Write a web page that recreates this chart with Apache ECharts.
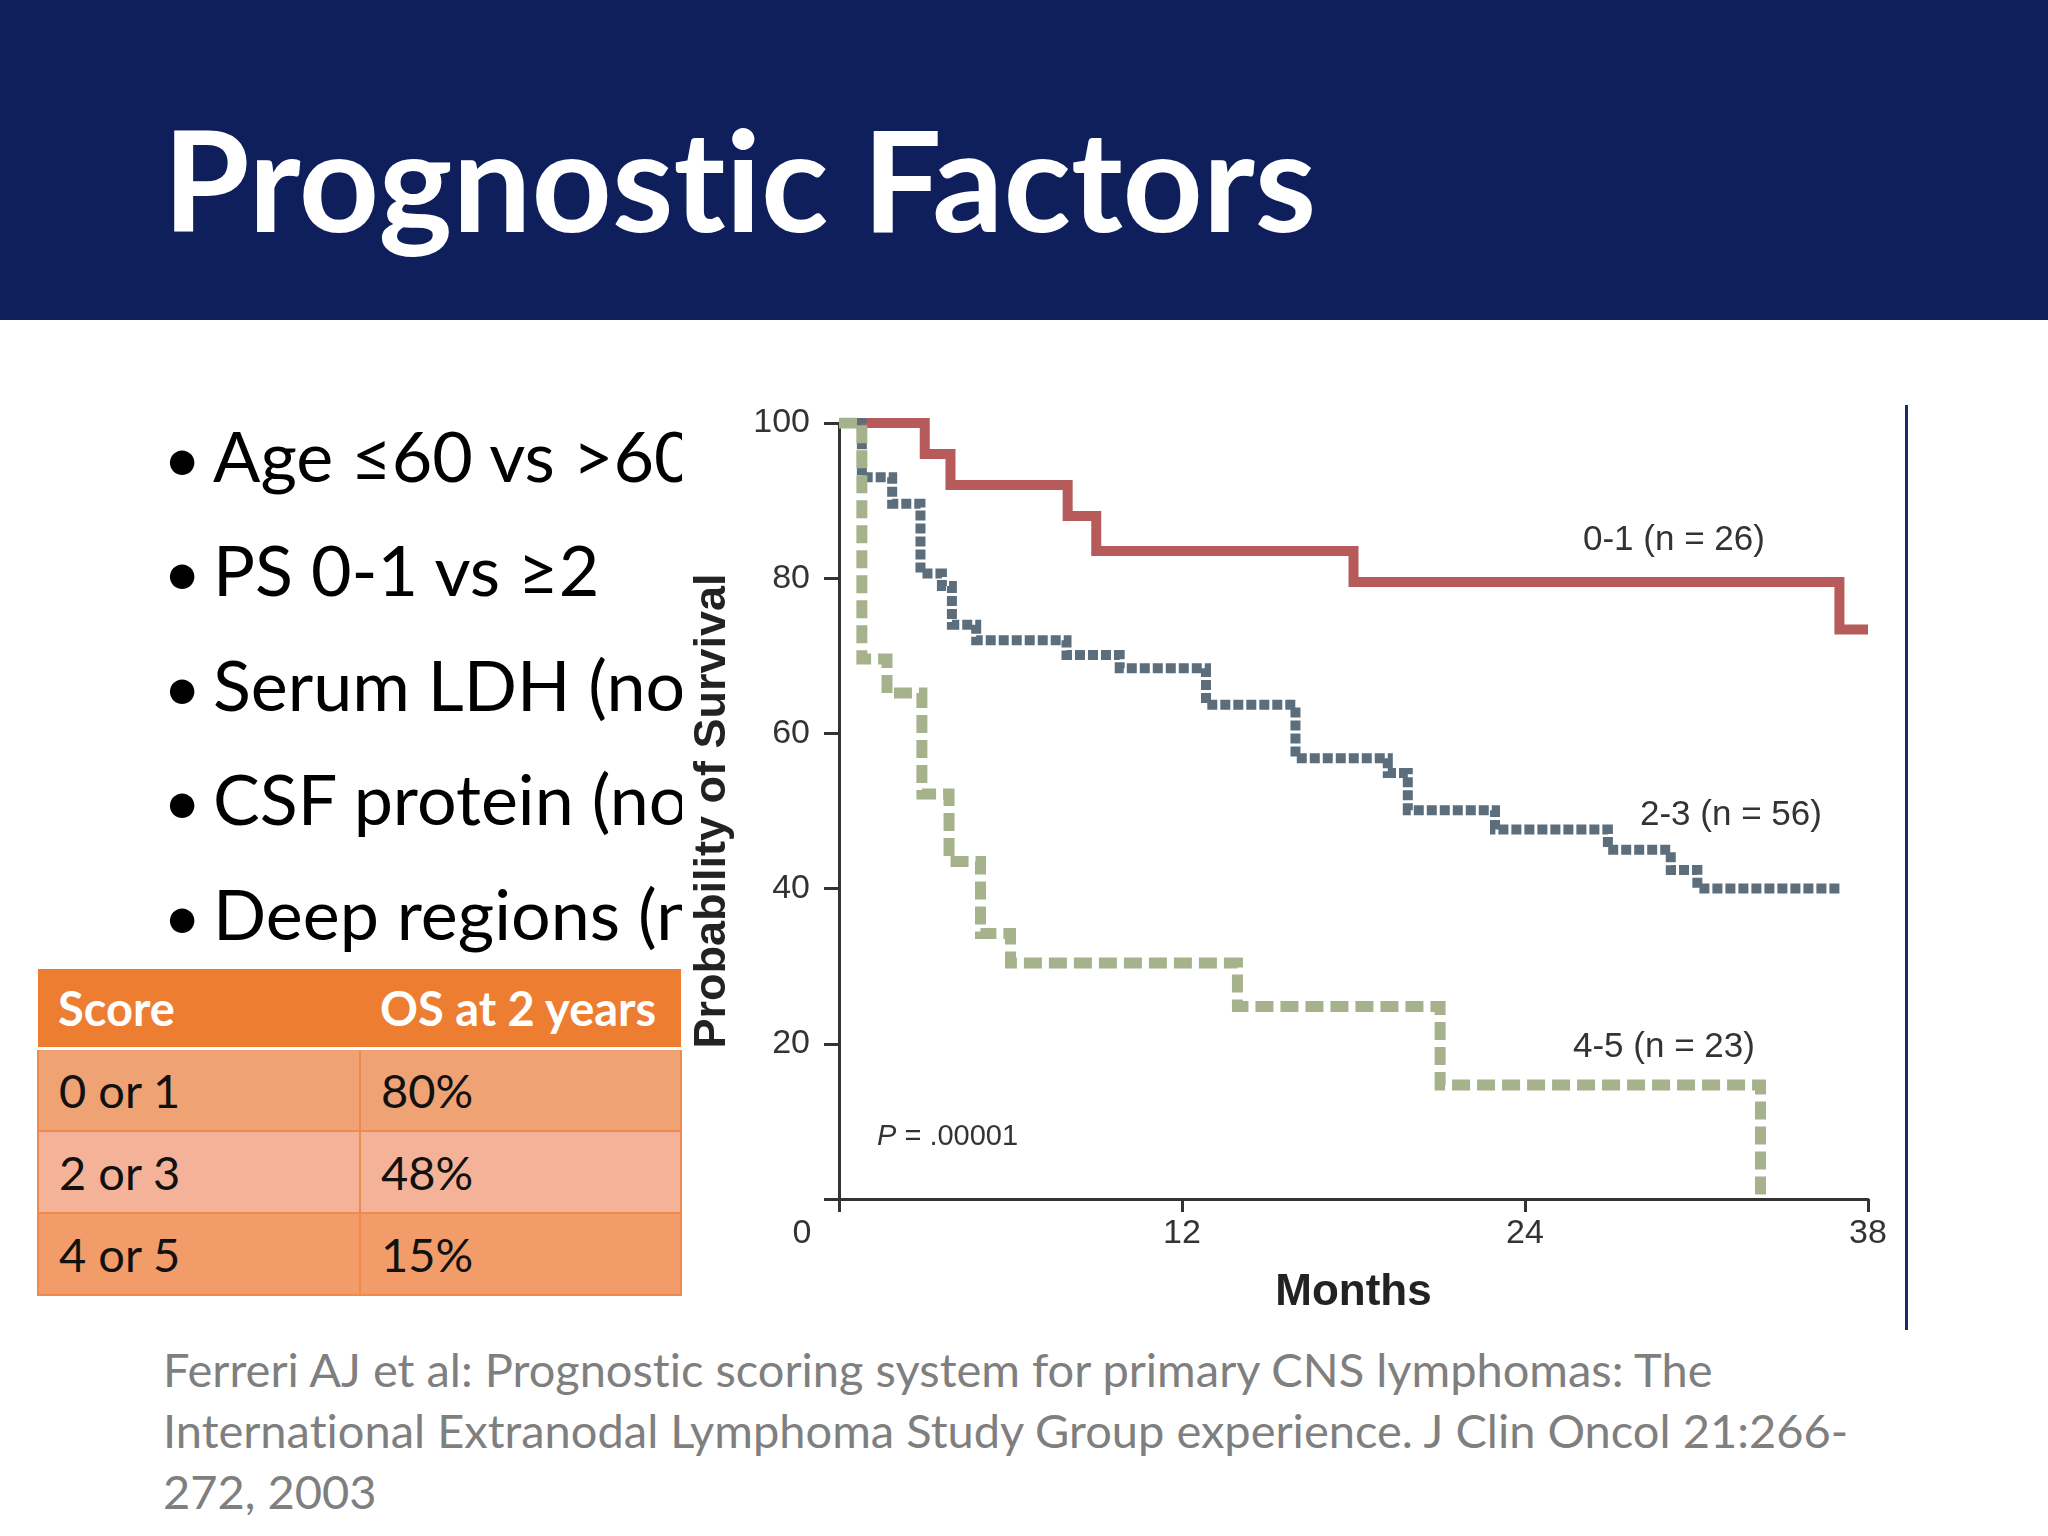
<!DOCTYPE html>
<html>
<head>
<meta charset="utf-8">
<title>Prognostic Factors</title>
<script src="https://cdn.jsdelivr.net/npm/echarts@6/dist/echarts.min.js"></script>
<style>
  html, body { margin: 0; padding: 0; background: #fff; }
  body { width: 2048px; height: 1536px; position: relative; overflow: hidden; font-family: Lato, "Open Sans", sans-serif; font-variant-ligatures: none; }
  .header { position: absolute; left: 0; top: 0; width: 2048px; height: 320px; background: #0e1f5c; }
  .title { position: absolute; left: 163px; top: 94px; font-size: 140px; line-height: 1.2; font-weight: 700; color: #fff; white-space: nowrap; }
  .bullets { position: absolute; left: 0; top: 330px; width: 682px; height: 640px; overflow: hidden; }
  .bl { position: absolute; left: 163px; font-size: 70px; line-height: 1.2; white-space: nowrap; color: #000; }
  .bl .dot { display: inline-block; width: 50px; font-size: 66px; }
  table.os { position: absolute; left: 37px; top: 969px; width: 645px; border-collapse: collapse; font-size: 47px; }
  table.os td, table.os th { padding: 0 0 0 20px; text-align: left; vertical-align: middle; white-space: nowrap; }
  table.os th { background: #ed7d31; color: #fff; font-weight: 700; height: 78px; border-bottom: 3px solid #fff; }
  table.os td { height: 80px; color: #111; border: 2px solid #ee8a4c; }
  table.os tr.r1 td { background: #efa274; }
  table.os tr.r2 td { background: #f4b399; }
  table.os tr.r3 td { background: #f19c69; }
  .cite { position: absolute; left: 163px; top: 1339px; font-size: 47px; line-height: 61px; color: #7f7f7f; white-space: nowrap; }
  #km { position: absolute; left: 682px; top: 405px; width: 1223px; height: 925px; background: #fff; border-right: 3px solid #1c2b6e; }
</style>
</head>
<body>
<div class="header"></div>
<div class="title">Prognostic Factors</div>

<div class="bullets">
  <div class="bl" style="top:83px"><span class="dot">•</span>Age ≤60 vs &gt;60 years</div>
  <div class="bl" style="top:197px"><span class="dot">•</span>PS 0-1 vs ≥2</div>
  <div class="bl" style="top:312px"><span class="dot">•</span>Serum LDH (normal vs elevated)</div>
  <div class="bl" style="top:426px"><span class="dot">•</span>CSF protein (normal vs elevated)</div>
  <div class="bl" style="top:541px"><span class="dot">•</span>Deep regions (no vs yes)</div>
</div>

<table class="os">
  <tr><th style="width:302px">Score</th><th>OS at 2 years</th></tr>
  <tr class="r1"><td>0 or 1</td><td>80%</td></tr>
  <tr class="r2"><td>2 or 3</td><td>48%</td></tr>
  <tr class="r3"><td>4 or 5</td><td>15%</td></tr>
</table>

<div class="cite">Ferreri AJ et al: Prognostic scoring system for primary CNS lymphomas: The<br>International Extranodal Lymphoma Study Group experience. J Clin Oncol 21:266-<br>272, 2003</div>

<div id="km"></div>

<script>
// 生存曲线数据（月份, 生存概率%）
const redMonths = [0, 3.0, 3.9, 8.0, 9.0, 18.0, 35.0, 36.0]
const redSurv = [100, 96, 92, 88, 83.5, 79.5, 73.4, 73.4]

const blueMonths = [0, 0.8, 1.86, 2.85, 3.6, 3.95, 4.8, 7.96, 9.82, 12.84, 15.97, 19.2, 19.9, 22.95, 26.9, 29.1, 30.03, 35.0]
const blueSurv = [100, 93, 89.6, 80.6, 79, 74, 72, 70.1, 68.4, 63.7, 56.8, 54.9, 50.1, 47.6, 45, 42.4, 40, 40]

const greenMonths = [0, 0.8, 1.68, 2.9, 3.85, 4.95, 6.0, 13.94, 21.03, 32.24]
const greenSurv = [100, 69.6, 65.2, 52.2, 43.5, 34.2, 30.4, 24.8, 14.7, 0]

// 坐标轴刻度
const xTickValues = [0, 12, 24, 36]
const xTickLabels = ['0', '12', '24', '38']
const yTickValues = [20, 40, 60, 80, 100]

const seriesNames = ['0-1 (n = 26)', '2-3 (n = 56)', '4-5 (n = 23)']

const fontFamily = '"Liberation Sans", Arial, sans-serif'

function pairs(xs, ys) {
  return xs.map((x, i) => [x, ys[i]])
}

const chartIn = echarts.init(document.getElementById('km'))

const lineBase = {
  type: 'line',
  step: 'end',
  symbol: 'none',
  showSymbol: false,
  silent: true,
  animation: false,
}

const option = {
  animation: false,
  backgroundColor: '#fff',
  grid: { left: 153, top: 18, width: 1033, height: 776 },
  xAxis: {
    type: 'value',
    min: 0,
    max: 36,
    interval: 12,
    name: 'Months',
    nameLocation: 'middle',
    nameGap: 72,
    nameTextStyle: { fontFamily, fontSize: 44, fontWeight: 'bold', color: '#222' },
    axisLine: { show: true, onZero: false, lineStyle: { color: '#333', width: 3 } },
    axisTick: { show: true, length: 13, lineStyle: { color: '#333', width: 3 } },
    axisLabel: {
      show: true,
      margin: 18,
      fontFamily,
      fontSize: 34,
      color: '#333',
      showMinLabel: true,
      showMaxLabel: true,
      formatter: v => {
        const i = xTickValues.indexOf(v)
        const t = i >= 0 ? xTickLabels[i] : ''
        // 原图里的 0 在两轴交点左下方
        return v === 0 ? '{z|' + t + '}' : t
      },
      rich: {
        z: { fontFamily, fontSize: 34, color: '#333', padding: [0, 74, 0, 0] }
      }
    },
    splitLine: { show: false }
  },
  yAxis: {
    type: 'value',
    min: 0,
    max: 100,
    interval: 20,
    name: 'Probability of Survival',
    nameLocation: 'middle',
    nameRotate: 90,
    nameGap: 104,
    nameTextStyle: { fontFamily, fontSize: 45, fontWeight: 'bold', color: '#222' },
    axisLine: { show: true, onZero: false, lineStyle: { color: '#333', width: 3 } },
    axisTick: { show: true, length: 15, lineStyle: { color: '#333', width: 3 } },
    axisLabel: {
      show: true,
      margin: 29,
      fontFamily,
      fontSize: 34,
      color: '#333',
      formatter: v => (yTickValues.indexOf(v) >= 0 ? String(v) : '')
    },
    splitLine: { show: false }
  },
  series: [
    {
      ...lineBase,
      name: seriesNames[0],
      data: pairs(redMonths, redSurv),
      lineStyle: { color: '#b65a5a', width: 10, cap: 'butt', join: 'miter' },
      z: 2
    },
    {
      ...lineBase,
      name: seriesNames[1],
      data: pairs(blueMonths, blueSurv),
      lineStyle: { color: '#5c6e7c', width: 10, type: [10, 3], cap: 'butt', join: 'miter' },
      z: 3
    },
    {
      ...lineBase,
      name: seriesNames[2],
      data: pairs(greenMonths, greenSurv),
      lineStyle: { color: '#a6b28c', width: 11, type: [18, 7], cap: 'butt', join: 'miter' },
      z: 4
    }
  ],
  graphic: [
    {
      type: 'text', x: 901, y: 135,
      style: { text: seriesNames[0], fontFamily, fontSize: 35, fill: '#333', verticalAlign: 'middle' }
    },
    {
      type: 'text', x: 958, y: 410,
      style: { text: seriesNames[1], fontFamily, fontSize: 35, fill: '#333', verticalAlign: 'middle' }
    },
    {
      type: 'text', x: 891, y: 642,
      style: { text: seriesNames[2], fontFamily, fontSize: 35, fill: '#333', verticalAlign: 'middle' }
    },
    {
      type: 'text', x: 195, y: 732,
      style: {
        text: '{i|P} = .00001',
        fontFamily, fontSize: 29, fill: '#333', verticalAlign: 'middle',
        rich: { i: { fontFamily, fontSize: 29, fontStyle: 'italic', fill: '#333' } }
      }
    }
  ]
}

chartIn.setOption(option)
</script>
</body>
</html>
